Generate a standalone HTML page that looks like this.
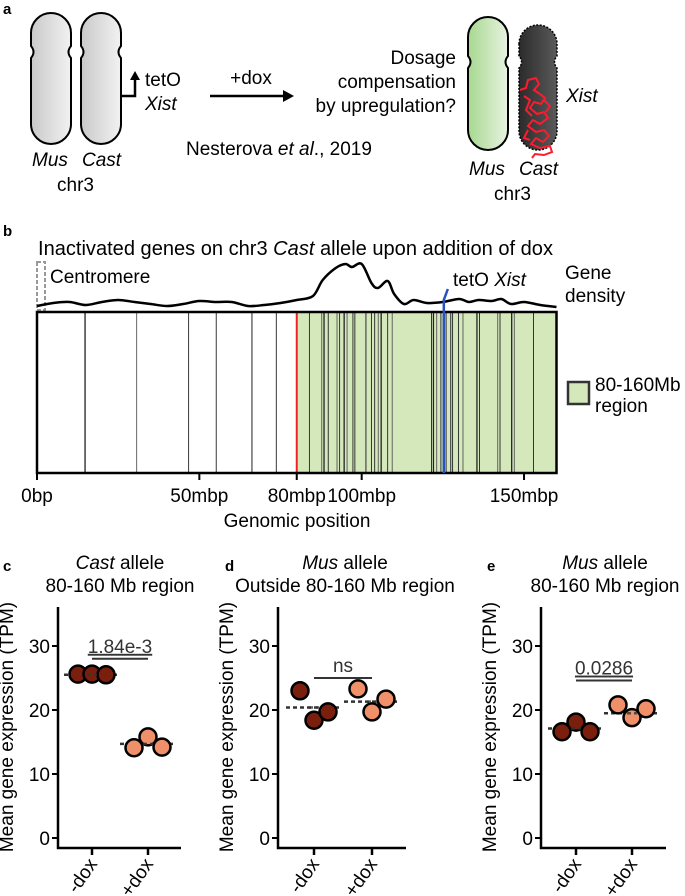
<!DOCTYPE html>
<html><head><meta charset="utf-8">
<style>
html,body{margin:0;padding:0;background:#fff;}
svg{display:block;font-family:"Liberation Sans",Arial,sans-serif;}
</style></head>
<body>
<svg id="fig" width="685" height="896" viewBox="0 0 685 896" xmlns="http://www.w3.org/2000/svg">
<defs>
<linearGradient id="gray" x1="0" x2="1" y1="0" y2="0"><stop offset="0" stop-color="#c9c9c9"/><stop offset="1" stop-color="#f2f2f2"/></linearGradient>
<linearGradient id="green" x1="0" x2="1" y1="0" y2="0"><stop offset="0" stop-color="#a7d890"/><stop offset="1" stop-color="#e8f3e0"/></linearGradient>
<linearGradient id="dark" x1="0" x2="1" y1="0" y2="0"><stop offset="0" stop-color="#2b2b2b"/><stop offset="1" stop-color="#5a5a5a"/></linearGradient>
</defs>
<g>
<text x="3" y="14" font-size="15" font-weight="bold">a</text>
<path d="M31,33 A20,20 0 0 1 71,33 L71,46 Q66,52 71,58 L71,124 A20,20 0 0 1 31,124 L31,58 Q36,52 31,46 Z" fill="url(#gray)" stroke="#000" stroke-width="2"/>
<path d="M81,33 A20,20 0 0 1 121,33 L121,46 Q116,52 121,58 L121,124 A20,20 0 0 1 81,124 L81,58 Q86,52 81,46 Z" fill="url(#gray)" stroke="#000" stroke-width="2"/>
<path d="M121,96 L135,96 L135,78" fill="none" stroke="#000" stroke-width="2.5"/>
<path d="M130,80 L135,71 L140,80 Z" fill="#000"/>
<text x="145" y="86" font-size="19">tetO</text>
<text x="145" y="110" font-size="19" font-style="italic">Xist</text>
<text x="32" y="166" font-size="19" font-style="italic">Mus</text>
<text x="82" y="166" font-size="19" font-style="italic">Cast</text>
<text x="57" y="191" font-size="19">chr3</text>
<text x="251" y="84" font-size="19" text-anchor="middle">+dox</text>
<line x1="210" y1="96" x2="285" y2="96" stroke="#000" stroke-width="2.5"/>
<path d="M283,90 L294,96 L283,102 Z" fill="#000"/>
<text x="456" y="64" font-size="19" text-anchor="end">Dosage</text>
<text x="456" y="88" font-size="19" text-anchor="end">compensation</text>
<text x="456" y="112" font-size="19" text-anchor="end">by upregulation?</text>
<text x="186" y="155" font-size="19">Nesterova <tspan font-style="italic">et al</tspan>., 2019</text>
<path d="M468,37 A20,20 0 0 1 508,37 L508,56 Q503,62 508,68 L508,130 A20,20 0 0 1 468,130 L468,68 Q473,62 468,56 Z" fill="url(#green)" stroke="#000" stroke-width="2"/>
<path d="M519,44 A19,19 0 0 1 557,44 L557,56 Q552,62 557,68 L557,131 A19,19 0 0 1 519,131 L519,68 Q524,62 519,56 Z" fill="url(#dark)" stroke="#000" stroke-width="1.5" stroke-dasharray="2,1.5"/>
<path d="M520,90 L526,88 L528,80 L536,78 L539,84 L534,90 L540,94 L545,98 L541,104 L534,102 L530,108 L537,114 L544,112 L548,118 L540,124 L533,120 L528,126 L536,132 L544,130 L549,136 L543,142 L536,138 L531,144 L540,148 L550,146 L552,152 L544,155 L535,154 L532,158" fill="none" stroke="#ff1a2e" stroke-width="2"/>
<path d="M524,96 L530,100 L526,110 L532,116 M544,100 L550,106 L546,112 M528,130 L524,138 L530,140" fill="none" stroke="#ff1a2e" stroke-width="2"/>
<text x="566" y="102" font-size="19" font-style="italic">Xist</text>
<text x="469" y="175" font-size="19" font-style="italic">Mus</text>
<text x="519" y="175" font-size="19" font-style="italic">Cast</text>
<text x="494" y="200" font-size="19">chr3</text>
</g>
<g id="pb">
<text x="3" y="236" font-size="15" font-weight="bold">b</text>
<text x="38" y="255" font-size="20" textLength="515" lengthAdjust="spacingAndGlyphs">Inactivated genes on chr3 <tspan font-style="italic">Cast</tspan> allele upon addition of dox</text>
<rect x="37" y="262" width="8" height="48" fill="none" stroke="#999" stroke-width="2" stroke-dasharray="4,2"/>
<text x="50" y="283" font-size="19">Centromere</text>
<text x="453" y="286" font-size="19">tetO <tspan font-style="italic">Xist</tspan></text>
<text x="565" y="279" font-size="19">Gene</text>
<text x="565" y="302" font-size="19">density</text>
<rect x="568" y="382" width="21" height="22" fill="#d5e8bb" stroke="#333" stroke-width="2.5"/>
<text x="595" y="391" font-size="19">80-160Mb</text>
<text x="595" y="412" font-size="19">region</text>
<text x="297" y="527" font-size="19" text-anchor="middle">Genomic position</text>
</g>
<g id="pc"></g>
</svg>
<script>
// ---- panel b data ----
const geneMb = [14.8,30.7,46.7,55.2,66.2,73.7,83.9,87.7,88.4,89.7,92.4,93.2,94.6,95.5,97.3,97.9,101.3,103,104,105.1,106,108,109.4,121.5,122.1,123.1,124.4,126,127.4,128,129.8,131.2,135.5,136.3,141.9,142.6,146.2,147,152.9];
const densityMb = [0,5,10,15,20,25,30,35,40,45,50,55,60,65,70,75,80,85,88,92,95,97,100,103,105,108,110,113,116,120,125,130,133,136,140,143,146,150,155,160];
const densityVal = [2,5,6,3,6,8,6,4,2,4,7,6,6,2,3,5,8,12,28,40,44,41,44,25,20,27,14,4,8,5,6,9,6,8,7,9,4,6,3,1];
const tickMb = [0,50,80,100,150];
const tickLabels = ["0bp","50mbp","80mbp","100mbp","150mbp"];
const regionStart = 80, regionEnd = 160, xistMb = 125.3;

const NS="http://www.w3.org/2000/svg";
function mk(tag, attrs, parent){const e=document.createElementNS(NS,tag);for(const k in attrs)e.setAttribute(k,attrs[k]);parent.appendChild(e);return e;}
const pb=document.getElementById('pb');
const bx0=37, bx1=556.5, by0=312, by1=473;
const xb = mb => bx0 + (mb/160)*(bx1-bx0);
let r=mk('rect',{x:xb(regionStart),y:by0,width:xb(regionEnd)-xb(regionStart),height:by1-by0,fill:'#d5e8bb'},pb);


geneMb.forEach((g,i)=>{
  const l=mk('line',{x1:xb(g),x2:xb(g),y1:by0,y2:by1,stroke:(i%3==1?'#555':'#222'),'stroke-width':(i%4==0?1.3:0.9)},pb);
  
  
});
let rl=mk('line',{x1:xb(regionStart),x2:xb(regionStart),y1:by0,y2:by1,stroke:'#ee2222','stroke-width':2},pb);


let bo=mk('rect',{x:bx0,y:by0,width:bx1-bx0,height:by1-by0,fill:'none',stroke:'#000','stroke-width':2.5},pb);


const baseY=308;
const pts=densityMb.map((m,i)=>[xb(m), baseY-densityVal[i]]);
let d='M'+pts[0][0]+','+pts[0][1];
for(let i=0;i<pts.length-1;i++){
  const p0=pts[Math.max(i-1,0)],p1=pts[i],p2=pts[i+1],p3=pts[Math.min(i+2,pts.length-1)];
  const c1=[p1[0]+(p2[0]-p0[0])/6,p1[1]+(p2[1]-p0[1])/6];
  const c2=[p2[0]-(p3[0]-p1[0])/6,p2[1]-(p3[1]-p1[1])/6];
  d+=' C'+c1[0]+','+c1[1]+' '+c2[0]+','+c2[1]+' '+p2[0]+','+p2[1];
}
let dc=mk('path',{d:d,fill:'none',stroke:'#000','stroke-width':2.5},pb);


let xl=mk('path',{d:`M${xb(xistMb)},${by1} L${xb(xistMb)},300 L${xb(xistMb)+4},289`,fill:'none',stroke:'#2a52be','stroke-width':2.5},pb);


tickMb.forEach((m,i)=>{
  const t=mk('line',{x1:xb(m),x2:xb(m),y1:by1,y2:by1+7,stroke:'#000','stroke-width':2},pb);
  
  
  const tx=mk('text',{x:xb(m),y:by1+29,'font-size':19,'text-anchor':'middle'},pb);
  tx.textContent=tickLabels[i];
  
  
});

// ---- panels c,d,e data ----
const panelTitles1 = [["","Cast"," allele"],["","Mus"," allele"],["","Mus"," allele"]];
const panelTitles2 = ["80-160 Mb region","Outside 80-160 Mb region","80-160 Mb region"];
const panelLetters = ["c","d","e"];
const minusDox = [[25.6,25.6,25.5],[23.0,18.4,19.7],[16.6,18.1,16.6]];
const plusDox = [[14.1,15.8,14.2],[23.3,19.7,21.7],[20.8,18.8,20.2]];
const minusMean = [25.5,20.4,17.1];
const plusMean = [14.7,21.3,19.5];
const pLabels = ["1.84e-3","ns","0.0286"];
const bracketY = [28.0,25.0,24.6];
const yTicks = [0,10,20,30];
const groups = ["-dox","+dox"];

const axX=[58,278,541], axEnd=[181,406,666], catX=[[92,148],[314,372],[576,632]], titleX=[120,345,605], letX=[3,225,487];
const y0px=838, pxPer=6.4, yTop=607;
const ys=v=>y0px-v*pxPer;
const pc=document.getElementById('pc');
for(let p=0;p<3;p++){
  const g=mk('g',{},pc);
  
  
  let L=mk('text',{x:letX[p],y:571,'font-size':15,'font-weight':'bold'},g); L.textContent=panelLetters[p];
  
  
  let t1=mk('text',{x:titleX[p],y:569,'font-size':19,'text-anchor':'middle'},g);
  t1.innerHTML='<tspan font-style="italic">'+panelTitles1[p][1]+'</tspan>'+panelTitles1[p][2];
  
  
  let t2=mk('text',{x:titleX[p],y:592,'font-size':19,'text-anchor':'middle'},g); t2.textContent=panelTitles2[p];
  
  
  const ax=axX[p];
  let ya=mk('path',{d:`M${ax},${yTop} L${ax},848 L${axEnd[p]},848`,fill:'none',stroke:'#000','stroke-width':2.5},g);
  
  
  yTicks.forEach(v=>{
    const tl=mk('line',{x1:ax-6,x2:ax,y1:ys(v),y2:ys(v),stroke:'#000','stroke-width':2},g);
    
    
    const tt=mk('text',{x:ax-8,y:ys(v)+7,'font-size':19,'text-anchor':'end'},g); tt.textContent=v;
    
    
  });
  const yt=mk('text',{x:0,y:0,'font-size':19,'text-anchor':'middle',transform:`translate(${ax-45},727) rotate(-90)`},g);
  yt.textContent='Mean gene expression (TPM)';
  
  
  groups.forEach((gr,gi)=>{
    const cx=catX[p][gi];
    const tk=mk('line',{x1:cx,x2:cx,y1:848,y2:855,stroke:'#000','stroke-width':2.5},g);
    
    
    const tl=mk('text',{x:0,y:0,'font-size':19,'text-anchor':'end',transform:`translate(${cx+6},864) rotate(-55)`},g); tl.textContent=gr;
    
    
    const vals= gi==0?minusDox[p]:plusDox[p];
    const mean= gi==0?minusMean[p]:plusMean[p];
    const fill= gi==0?'#7a1f0e':'#f0906a';
    const ml=mk('line',{x1:cx-28,x2:cx+28,y1:ys(mean),y2:ys(mean),stroke:'#333','stroke-width':2.5,'stroke-dasharray':'4,3'},g);
    
    
    vals.forEach((v,k)=>{
      const c=mk('circle',{cx:cx+(k-1)*14,cy:ys(v),r:8.5,fill:fill,stroke:'#000','stroke-width':2.5},g);
      
      
    });
    mk('line',{x1:cx-5,x2:cx+5,y1:ys(mean),y2:ys(mean),stroke:'#333','stroke-width':2.5,'stroke-dasharray':'4,3','stroke-opacity':0.8},g);
  });
  const by=ys(bracketY[p]);
  const bl=mk('line',{x1:catX[p][0],x2:catX[p][1],y1:by,y2:by,stroke:'#333','stroke-width':2},g);
  
  
  const pt=mk('text',{x:(catX[p][0]+catX[p][1])/2,y:by-6,'font-size':19,'text-anchor':'middle',fill:'#333','text-decoration':p==1?'none':'underline'},g);
  pt.textContent=pLabels[p];
  
  
}
</script>
</body></html>
